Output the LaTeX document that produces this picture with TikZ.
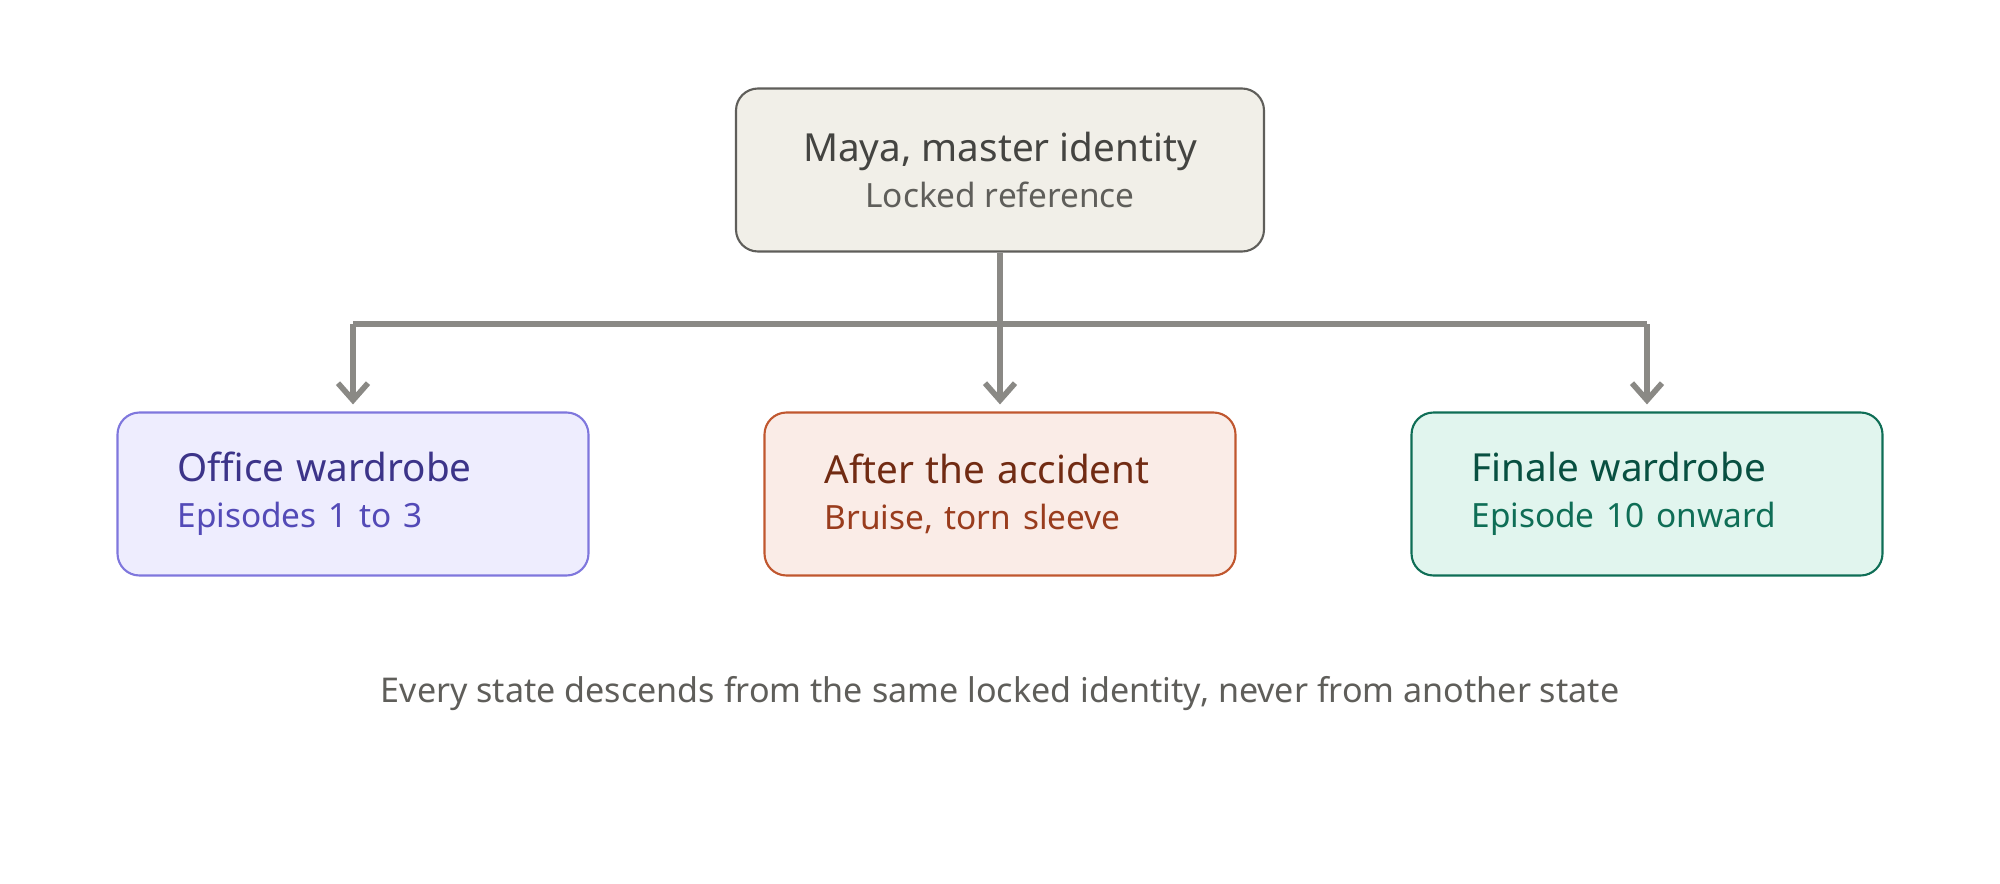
\documentclass[tikz,border=0pt]{standalone}
\usepackage{fontspec}
\setmainfont{Noto Sans}
\usetikzlibrary{arrows.meta,positioning}
\definecolor{gborder}{HTML}{5F5E5A}
\definecolor{gfill}{HTML}{F1EFE8}
\definecolor{gtitle}{HTML}{444441}
\definecolor{pborder}{HTML}{7F77DD}
\definecolor{pfill}{HTML}{EEEDFE}
\definecolor{ptitle}{HTML}{3C3489}
\definecolor{psub}{HTML}{534AB7}
\definecolor{cborder}{HTML}{C0572F}
\definecolor{cfill}{HTML}{FAECE7}
\definecolor{ctitle}{HTML}{712B13}
\definecolor{csub}{HTML}{993C1D}
\definecolor{tborder}{HTML}{0F6E56}
\definecolor{tfill}{HTML}{E1F5EE}
\definecolor{ttitle}{HTML}{085041}
\definecolor{tsub}{HTML}{0F6E56}
\definecolor{wire}{HTML}{8A8985}
\begin{document}
\begin{tikzpicture}
\tikzset{
  box/.style={rectangle, rounded corners=0.22cm, line width=0.6pt, minimum height=1.63cm},
  state/.style={box, minimum width=4.71cm, text width=3.51cm, inner xsep=0.6cm, align=left},
  wire/.style={draw=wire, line width=1.6pt},
  arr/.style={wire, -{Straight Barb[length=0.17cm,width=0.3cm]}}
}
\useasboundingbox (0,0) rectangle (20,-8.83);

\node[box, draw=gborder, fill=gfill, minimum width=5.28cm, align=center] (master) at (10,-1.70)
  {\color{gtitle}\fontsize{11}{15}\selectfont Maya, master identity\\[1pt]
   \color{gborder}\fontsize{9.5}{13}\selectfont Locked reference};

\node[state, draw=pborder, fill=pfill] (office) at (3.53,-4.94)
  {\color{ptitle}\fontsize{11}{15}\selectfont Office wardrobe\\[1pt]
   \color{psub}\fontsize{9.5}{13}\selectfont Episodes 1 to 3};
\node[state, draw=cborder, fill=cfill] (accident) at (10,-4.94)
  {\color{ctitle}\fontsize{11}{15}\selectfont After the accident\\[1pt]
   \color{csub}\fontsize{9.5}{13}\selectfont Bruise, torn sleeve};
\node[state, draw=tborder, fill=tfill] (finale) at (16.47,-4.94)
  {\color{ttitle}\fontsize{11}{15}\selectfont Finale wardrobe\\[1pt]
   \color{tsub}\fontsize{9.5}{13}\selectfont Episode 10 onward};

\coordinate (bus) at (10,-3.24);
\draw[wire] (master.south) -- (bus);
\draw[wire] (bus -| office) -- (bus -| finale);
\draw[arr] (bus -| office) -- ([yshift=2pt]office.north);
\draw[arr] (bus) -- ([yshift=2pt]accident.north);
\draw[arr] (bus -| finale) -- ([yshift=2pt]finale.north);

\node[text=gborder, font=\fontsize{9.7}{12}\selectfont] (note) at (10,-6.94)
  {Every state descends from the same locked identity, never from another state};
\end{tikzpicture}
\end{document}
